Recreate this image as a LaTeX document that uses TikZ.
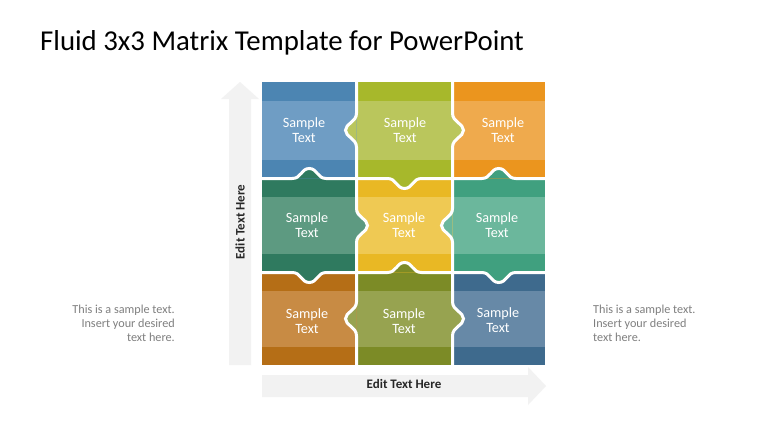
\documentclass[tikz,border=0pt]{standalone}
\usepackage{fontspec}
\setmainfont{Carlito}
\definecolor{blueB}{HTML}{4C85B2}\definecolor{blueM}{HTML}{6F9DC4}
\definecolor{limeB}{HTML}{A7B82B}\definecolor{limeM}{HTML}{BAC65C}
\definecolor{orgB}{HTML}{EB951E}\definecolor{orgM}{HTML}{EFAA4D}
\definecolor{dgrB}{HTML}{2F7A5F}\definecolor{dgrM}{HTML}{5D9A81}
\definecolor{goldB}{HTML}{E9B824}\definecolor{goldM}{HTML}{EFC953}
\definecolor{tealB}{HTML}{40A07F}\definecolor{tealM}{HTML}{6BB79C}
\definecolor{brnB}{HTML}{B56E16}\definecolor{brnM}{HTML}{C88B44}
\definecolor{oliB}{HTML}{7C8B26}\definecolor{oliM}{HTML}{97A350}
\definecolor{slB}{HTML}{3E6A8D}\definecolor{slM}{HTML}{6789A7}
\definecolor{arrowgray}{HTML}{F2F2F2}
\definecolor{sidegray}{HTML}{7F7F7F}
\definecolor{darktext}{HTML}{262626}
\tikzset{
  sep/.style={draw=white,line width=3pt},
  celltext/.style={text=white,align=center,font=\fontsize{14.2}{15}\selectfont,inner sep=0pt},
  axislabel/.style={text=darktext,font=\bfseries\fontsize{13}{15}\selectfont,inner sep=0pt},
  sidetext/.style={text=sidegray,font=\fontsize{12.2}{14}\selectfont,inner sep=0pt},
  arrowshape/.style={fill=arrowgray}
}
% cell: xa xb ya yb band mid
\newcommand\mkcell[6]{%
  \fill[#5] (#1,#3) rectangle (#2,#4);
  \fill[#6] (#1,{#3+18.5}) rectangle (#2,{#4-18.5});}
% horizontal edge with tab: xa xb y depth color
\newcommand\htab[5]{%
  \pgfmathsetmacro\cc{(#1+#2)/2}%
  \fill[#5] ({\cc-17},#3) .. controls ({\cc-8},#3) and ({\cc-8},{#3+#4}) .. ({\cc},{#3+#4}) .. controls ({\cc+8},{#3+#4}) and ({\cc+8},#3) .. ({\cc+17},#3) -- cycle;
  \draw[sep] (#1,#3) -- ({\cc-17},#3) .. controls ({\cc-8},#3) and ({\cc-8},{#3+#4}) .. ({\cc},{#3+#4}) .. controls ({\cc+8},{#3+#4}) and ({\cc+8},#3) .. ({\cc+17},#3) -- (#2,#3);}
% vertical edge with tab: ya yb x depth color
\newcommand\vtab[5]{%
  \pgfmathsetmacro\cc{(#1+#2)/2}%
  \fill[#5] (#3,{\cc-17}) .. controls (#3,{\cc-8}) and ({#3+#4},{\cc-7}) .. ({#3+#4},{\cc}) .. controls ({#3+#4},{\cc+7}) and (#3,{\cc+8}) .. (#3,{\cc+17}) -- cycle;
  \draw[sep] (#3,#1) -- (#3,{\cc-17}) .. controls (#3,{\cc-8}) and ({#3+#4},{\cc-7}) .. ({#3+#4},{\cc}) .. controls ({#3+#4},{\cc+7}) and (#3,{\cc+8}) .. (#3,{\cc+17}) -- (#3,#2);}
\begin{document}
\begin{tikzpicture}[x=1pt,y=-1pt]
\useasboundingbox[fill=white] (0,0) rectangle (768,432);
% title
\node[anchor=base west,inner sep=0pt,font=\fontsize{28.8}{32}\selectfont,text=black] (title) at (40,50) {Fluid 3x3 Matrix Template for PowerPoint};
% arrows
\fill[arrowshape] (229,365) -- (229,99) -- (221,99) -- (240,82) -- (259,99) -- (251,99) -- (251,365) -- cycle;
\fill[arrowshape] (262,375) -- (528,375) -- (528,367) -- (546,386) -- (528,405) -- (528,397) -- (262,397) -- cycle;
\node[axislabel,rotate=90] (ylab) at (240,222) {Edit Text Here};
\node[axislabel] (xlab) at (404,384) {Edit Text Here};
% cells
\mkcell{262}{356.5}{82}{178.5}{blueB}{blueM}
\mkcell{356.5}{452.5}{82}{178.5}{limeB}{limeM}
\mkcell{452.5}{545}{82}{178.5}{orgB}{orgM}
\mkcell{262}{356.5}{178.5}{272.5}{dgrB}{dgrM}
\mkcell{356.5}{452.5}{178.5}{272.5}{goldB}{goldM}
\mkcell{452.5}{545}{178.5}{272.5}{tealB}{tealM}
\mkcell{262}{356.5}{272.5}{365}{brnB}{brnM}
\mkcell{356.5}{452.5}{272.5}{365}{oliB}{oliM}
\mkcell{452.5}{545}{272.5}{365}{slB}{slM}
% vertical edges
\vtab{82}{178.5}{356.5}{-11}{limeM}
\vtab{82}{178.5}{452.5}{11}{limeM}
\vtab{178.5}{272.5}{356.5}{11}{dgrM}
\vtab{178.5}{272.5}{452.5}{-11}{tealM}
\vtab{272.5}{365}{356.5}{-11}{oliM}
\vtab{272.5}{365}{452.5}{11}{oliM}
% horizontal edges
\htab{262}{356.5}{178.5}{-10}{dgrB}
\htab{356.5}{452.5}{178.5}{10}{limeB}
\htab{452.5}{545}{178.5}{-10}{tealB}
\htab{262}{356.5}{272.5}{10}{dgrB}
\htab{356.5}{452.5}{272.5}{-10}{oliB}
\htab{452.5}{545}{272.5}{10}{tealB}
% cell texts
\node[celltext] (t11) at (304,130) {Sample\\Text};
\node[celltext] (t12) at (405,130) {Sample\\Text};
\node[celltext] (t13) at (503,130) {Sample\\Text};
\node[celltext] (t21) at (307,225.5) {Sample\\Text};
\node[celltext] (t22) at (404,225.5) {Sample\\Text};
\node[celltext] (t23) at (497,225.5) {Sample\\Text};
\node[celltext] (t31) at (307,321.5) {Sample\\Text};
\node[celltext] (t32) at (404,321.5) {Sample\\Text};
\node[celltext] (t33) at (498,320.5) {Sample\\Text};
% side texts
\node[sidetext,anchor=east,align=right] (lefttext) at (175,323) {This is a sample text.\\Insert your desired\\text here.};
\node[sidetext,anchor=west,align=left] (righttext) at (593,323) {This is a sample text.\\Insert your desired\\text here.};
\end{tikzpicture}
\end{document}
